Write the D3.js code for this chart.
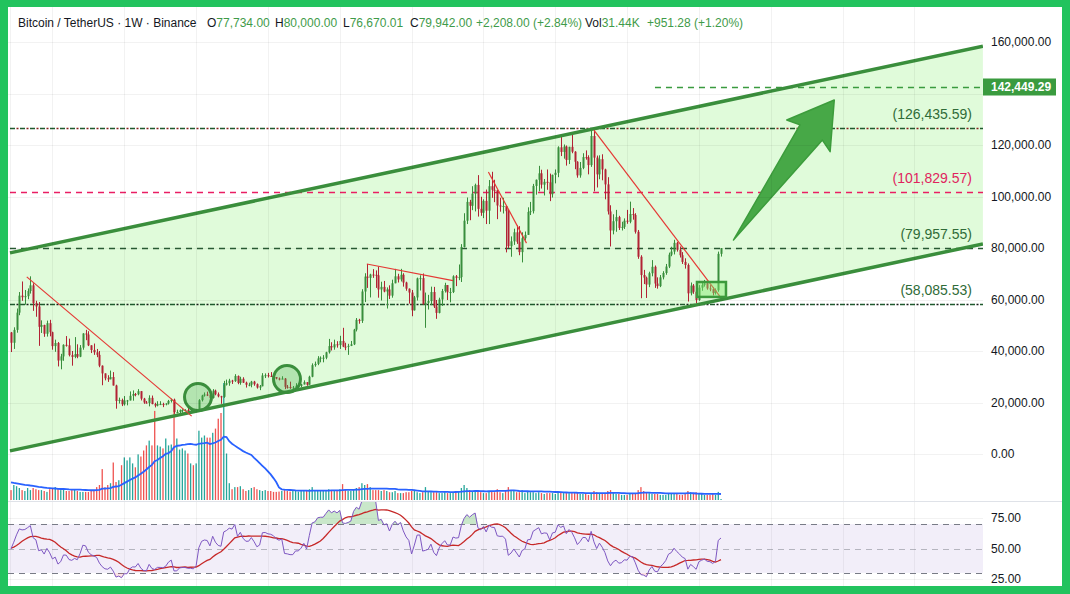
<!DOCTYPE html>
<html><head><meta charset="utf-8">
<script src="https://cdn.jsdelivr.net/npm/d3@7"></script>
<style>html,body{margin:0;padding:0;background:#fff;}svg{display:block;font-family:"Liberation Sans",Arial,sans-serif;}</style>
</head><body><svg id="c" width="1070" height="594"></svg>
<script>
// ---------- DATA (prices in thousands of USDT, weekly, Binance BTCUSDT) ----------
const priorCloses = [45.2,51.0,59.0,57.4,55.8,57.1,59.8,56.2,49.1,56.6,58.2,46.5,34.7,35.7,35.8,39.1,35.6,34.7,35.3,34.3,31.8,35.4,39.9,44.6,47.0,49.3,48.8,49.9,46.0,47.2];
const priorVolumes = [900,800,720,650,600,560,620,640,700,650,580,540,520,500,540,480,620,450,400];

const closes = [
43.2,48.2,54.9,61.5,60.9,61.3,63.3,65.5,58.6,57.3,49.4,50.1,46.7,50.8,47.3,
41.9,43.1,36.3,37.9,42.4,42.2,38.4,37.7,38.8,37.8,41.3,46.8,46.4,42.2,40.4,39.5,38.5,34.3,31.3,29.4,29.0,29.9,26.6,20.6,21.0,19.3,
20.8,20.8,22.6,23.3,23.2,24.4,21.5,20.0,19.8,21.8,19.4,18.8,19.4,19.4,19.2,19.6,20.6,21.1,16.3,16.3,17.0,17.1,17.1,16.8,16.8,16.6,
17.1,20.9,22.7,23.1,23.0,21.8,24.6,23.2,22.4,22.2,26.9,27.5,28.5,28.3,30.3,27.6,29.2,27.7,26.9,26.9,28.1,27.1,25.8,26.3,30.5,30.6,
30.3,30.2,29.9,29.3,29.0,29.3,26.1,26.0,25.8,25.8,26.5,26.5,27.0,27.9,26.9,30.0,34.5,35.0,37.1,37.4,37.4,39.5,41.9,41.4,42.6,42.3,
43.9,41.7,41.6,42.0,42.6,48.3,52.1,51.7,63.1,68.9,68.4,69.7,69.6,69.4,63.9,64.9,63.1,63.9,61.5,66.3,69.0,67.8,69.6,66.6,64.2,62.7,
55.8,60.8,68.2,68.3,58.2,58.7,59.4,62.9,57.3,54.8,60.0,63.3,65.6,62.8,62.9,69.0,68.4,68.7,80.4,90.6,97.9,96.4,101.1,104.5,95.2,93.7,
98.3,94.5,104.0,102.6,102.4,96.5,96.1,96.3,94.3,80.7,82.6,86.1,82.4,78.4,83.8,85.1,94.0,94.3,104.1,106.5,109.0,104.6,105.7,105.5,100.9,108.4,
109.2,119.1,117.3,119.4,114.2,119.3,117.4,113.5,108.2,111.1,115.3,115.2,112.2,123.5,115.1,108.6,114.5,110.5,104.7,94.2,86.8,90.4,92.0,87.8,88.2,90.6,
90.2,93.2,92.8,86.3,76.6,69.5,68.5,65.8,70.2,72.7,66.2,65.2,68.6,70.3,72.8,77.4,78.6,82.0,79.3,77.2,74.6,73.4,62.4,65.4,63.0,59.8,64.6,65.6,66.3,64.3,64.0,62.5,63.6,77.734,79.942
];
const highs = [
47.4,49.2,56.5,62.9,67.0,63.7,64.3,69.0,66.3,59.5,59.0,51.9,50.2,51.8,52.1,
47.5,44.4,43.5,38.9,42.6,45.8,44.8,40.0,45.4,42.6,42.3,46.9,48.2,47.7,41.6,42.9,40.8,40.0,34.4,30.7,30.6,32.4,31.8,26.9,21.9,21.5,
22.5,21.0,24.3,24.7,23.7,25.2,24.4,21.8,20.6,22.8,22.7,19.9,20.5,20.5,19.9,19.7,21.0,21.5,21.5,17.2,17.3,17.4,17.4,18.4,17.1,17.0,
17.2,21.3,23.0,23.9,24.2,23.4,25.2,25.0,23.9,22.6,28.4,28.9,29.2,28.8,31.0,30.5,30.0,29.8,28.1,27.7,28.4,28.4,27.4,26.8,31.4,31.3,
31.5,31.8,30.3,29.9,29.7,30.2,29.5,26.8,28.1,26.4,27.5,27.4,27.3,28.6,27.9,30.4,35.2,35.9,38.0,37.9,38.4,39.7,44.7,43.4,44.4,43.8,
45.9,49.0,43.2,42.8,43.9,48.6,52.8,52.5,64.0,70.2,73.8,70.0,71.8,71.3,72.8,66.9,67.2,64.7,65.5,67.7,71.9,70.0,71.9,70.2,66.9,64.3,
63.7,61.4,68.5,69.4,70.1,62.7,61.8,65.0,64.9,59.8,60.7,64.1,66.5,65.6,64.5,69.4,69.5,73.6,81.5,93.5,99.6,98.7,104.0,105.0,108.3,99.9,
98.9,102.7,106.4,109.6,106.5,102.5,99.5,99.5,96.5,95.0,84.5,87.5,88.8,88.5,86.1,86.4,95.8,97.9,104.9,106.6,111.9,110.4,106.8,110.5,108.9,108.5,
110.5,119.5,123.2,120.2,119.8,119.3,124.5,117.6,113.7,113.4,116.8,117.9,116.0,125.7,126.2,115.9,116.0,116.4,110.8,107.5,96.6,93.1,94.8,92.5,90.2,91.5,
94.8,98.0,95.5,93.5,87.0,77.2,71.5,68.9,70.8,75.3,73.2,68.6,69.5,71.0,73.8,78.2,80.5,83.2,82.4,80.6,78.4,76.0,74.0,66.6,66.0,63.6,65.6,66.9,67.6,66.6,65.6,64.8,64.3,78.6,80.0
];
const lows = [
39.6,40.8,47.1,53.9,59.5,58.0,60.1,62.3,55.6,53.3,42.0,47.0,45.5,45.6,45.7,
40.5,39.7,34.0,32.9,36.2,41.7,37.9,34.3,37.2,37.2,37.6,40.5,44.2,41.9,39.2,38.5,37.6,33.7,26.7,28.6,28.0,29.3,26.6,17.6,19.6,18.6,
18.8,18.9,20.8,20.7,22.4,22.8,20.8,19.5,19.6,18.5,19.3,18.1,18.5,19.0,18.2,18.9,19.2,20.0,15.6,15.8,15.5,16.0,16.7,16.3,16.3,16.3,
16.5,17.2,20.4,22.3,22.5,21.4,21.5,22.8,22.0,19.5,21.8,26.6,26.5,27.2,28.0,27.1,26.9,27.6,25.8,26.3,25.9,26.5,25.4,24.8,26.3,29.5,
29.7,30.0,29.5,29.0,28.6,29.0,25.2,25.4,25.3,24.9,24.9,26.0,26.0,27.2,26.5,26.9,29.8,33.9,34.5,35.6,35.6,36.8,39.0,40.2,40.5,41.3,
40.8,41.5,40.3,38.5,41.9,42.3,47.6,50.6,50.9,59.0,64.5,60.8,68.4,64.5,60.7,59.6,62.8,56.5,60.2,60.7,66.6,66.6,67.0,65.0,63.4,58.4,
53.5,55.7,59.6,63.5,58.0,49.0,56.1,57.8,56.7,52.5,54.6,57.5,62.7,59.8,58.9,62.5,65.2,67.5,66.8,80.2,89.3,90.8,94.7,94.2,92.2,92.5,
91.6,89.3,89.3,99.5,97.8,91.2,94.1,93.4,78.3,80.0,76.6,81.2,81.6,77.2,74.4,83.0,85.1,92.8,93.4,100.7,102.0,103.1,100.4,102.6,98.2,99.6,
105.1,107.5,115.7,114.7,112.0,112.6,116.8,110.6,107.3,107.3,110.6,114.3,108.6,111.5,102.0,103.5,106.7,106.3,98.9,93.0,80.6,85.3,86.3,87.0,86.8,87.4,
89.4,89.6,91.0,85.6,75.8,60.5,66.0,60.6,64.8,69.0,64.5,64.2,64.8,67.8,69.6,72.2,76.8,77.5,78.6,76.3,73.8,72.0,59.2,61.6,62.2,58.6,59.5,63.4,65.0,63.8,63.2,61.6,61.9,63.0,76.67
];
// weekly volume, thousands of BTC
const volumes = [
330,500,460,400,330,300,400,330,400,360,330,330,300,270,360,
370,430,400,330,400,300,300,330,360,300,270,270,270,270,320,320,430,500,1030,430,500,560,1250,600,660,1160,
1420,1320,1420,1220,1090,1520,1450,1650,1820,1980,1820,2970,1820,1780,1720,2050,1820,1850,3300,2050,1680,1720,1650,1550,1220,1160,
1220,2310,2080,2150,2080,2080,2240,2380,2710,2900,3900,1550,560,360,430,430,460,360,300,330,400,430,360,330,300,330,
300,300,270,270,280,300,330,300,280,300,300,280,300,330,300,360,430,330,330,300,300,330,360,330,300,300,
360,530,330,300,300,330,400,430,560,500,530,430,330,330,330,300,330,300,260,260,300,230,230,230,260,260,
300,330,260,230,260,430,300,260,260,260,230,230,260,230,230,260,260,300,400,500,400,330,300,300,330,260,
230,230,300,300,260,360,260,230,330,430,330,300,260,260,330,230,300,260,260,230,260,230,200,230,230,230,
200,260,260,230,230,230,260,260,230,200,200,200,170,230,300,260,230,200,230,300,330,230,200,200,170,170,
170,200,200,230,330,430,300,260,230,200,200,200,170,170,170,200,200,230,200,170,170,200,300,260,230,260,200,200,170,170,170,200,170,270,31.44
];
const priceGrid = [0,20,40,60,80,100,120,140,160];
const priceLabels = [0,20,40,60,80,100,120,160];   // 140,000 hidden behind the level badge
const rsiTicks = [25,50,75];
const gridWeeks = [15,41,67,93,119,145,171,197,223,249,275,301,327];
const levelValues = [142449.29,126435.59,101829.57,79957.55,58085.53];
const headerTokens = [
  ["Bitcoin / TetherUS · 1W · Binance","n"],["O","n"],["77,734.00","g"],["H","n"],["80,000.00","g"],
  ["L","n"],["76,670.01","g"],["C","n"],["79,942.00","g"],["+2,208.00 (+2.84%)","g"],
  ["Vol","n"],["31.44K","g"],["+951.28 (+1.20%)","g"]];
// drawings (week index, price in thousands)
const channelUpper = [[-0.36,78.1],[351.8,158.4]];
const channelLower = [[-0.36,1.2],[351.8,81.6]];
const trendLines = [
  [[5.7,68.8],[65.4,14.7]],
  [[128.8,73.8],[160.0,67.3]],
  [[172.8,109.5],[186.6,81.9]],
  [[211.0,125.8],[256.8,60.9]]];
const circleMarks = [[67.7,22.1],[99.9,29.1]];
const boxMark = [[248.3,66.8],[258.8,61.0]];
const arrowMark = [[261.5,83.1],[285.6,127.8],[280.8,129.7],[298.0,137.5],[296.5,117.4],[293.7,121.9]];

// ---------- SETUP ----------
const svg = d3.select('#c');
const W = 1070, H = 594, PL = 8, PR = 983;
const N = closes.length;
const opens = closes.map((c,i)=> i===0 ? priorCloses[priorCloses.length-1] : closes[i-1]);
const hi = highs.map((h,i)=>Math.max(h,opens[i],closes[i]));
const lo = lows.map((l,i)=>Math.min(l,opens[i],closes[i]));

const x = d3.scaleLinear().domain([0,N-1]).range([11,721]);
const y = d3.scaleLinear().domain([0,160]).range([454,42]);
const yv = d3.scaleLinear().domain([0,3900]).range([500,383]);
const yr = d3.scaleLinear().domain([25,75]).range([579,518]);

svg.append('rect').attr('width',W).attr('height',H).attr('fill','#22c35e');
svg.append('rect').attr('x',8).attr('y',7).attr('width',1054).attr('height',579).attr('fill','#ffffff');

const defs = svg.append('defs');
defs.append('clipPath').attr('id','cp').append('rect').attr('x',PL).attr('y',7).attr('width',PR-PL).attr('height',494);
defs.append('clipPath').attr('id','cr').append('rect').attr('x',PL).attr('y',502).attr('width',PR-PL).attr('height',84);

const main = svg.append('g').attr('clip-path','url(#cp)');
const lineGen = d3.line().x(d=>x(d[0])).y(d=>y(d[1]));

// channel fill
const poly = [channelUpper[0],channelUpper[1],channelLower[1],channelLower[0]];
main.append('path').attr('d',lineGen(poly)+'Z').attr('fill','#e0fbda');

// grid
const grid = svg.append('g');
grid.selectAll('line.h').data(priceGrid).join('line')
  .attr('x1',PL).attr('x2',PR).attr('y1',d=>Math.round(y(d))+0.5).attr('y2',d=>Math.round(y(d))+0.5)
  .attr('stroke','#000').attr('stroke-opacity',0.05);
grid.selectAll('line.r').data([75,25]).join('line')
  .attr('x1',PL).attr('x2',PR).attr('y1',d=>Math.round(yr(d))+0.5).attr('y2',d=>Math.round(yr(d))+0.5)
  .attr('stroke','#000').attr('stroke-opacity',0.05);
grid.selectAll('line.v').data(gridWeeks).join('line')
  .attr('x1',d=>Math.round(x(d))+0.5).attr('x2',d=>Math.round(x(d))+0.5).attr('y1',7).attr('y2',586)
  .attr('stroke','#000').attr('stroke-opacity',0.05);
svg.append('line').attr('x1',10.5).attr('x2',10.5).attr('y1',7).attr('y2',586).attr('stroke','#000').attr('stroke-opacity',0.05);
svg.append('line').attr('x1',PL).attr('x2',1062).attr('y1',501.5).attr('y2',501.5).attr('stroke','#dfe2e8');

// volume
const vAll = priorVolumes.concat(volumes);
const vMA = volumes.map((v,i)=>{const k=i+priorVolumes.length; return d3.mean(vAll.slice(k-19,k+1));});
main.selectAll('rect.vol').data(volumes).join('rect')
  .attr('x',(d,i)=>x(i)-0.6).attr('width',1.3)
  .attr('y',d=>yv(d)).attr('height',d=>Math.max(0.5,500-yv(d)))
  .attr('fill',(d,i)=>closes[i]>=opens[i]?'#26a69a':'#ef5350');
main.append('path').datum(vMA).attr('fill','none').attr('stroke','#2962ff').attr('stroke-width',1.8)
  .attr('d',d3.line().x((d,i)=>x(i)).y(d=>yv(d)));

// level lines (each may be a pair of overlaid dash patterns)
const levelStyle = [
  {parts:[['#3a9b3f','6,5',0]], from:233.1, lab:null},
  {parts:[['#1f5a2e','5,5',0],['#8b1e1e','2,8',-6.5]], from:-1, lab:'#2f6b38'},
  {parts:[['#e91e63','6,5',0]], from:-1, lab:'#e0245e'},
  {parts:[['#2b5e36','6,5',0]], from:-1, lab:'#2f6b38'},
  {parts:[['#1f5a2e','5,5',0],['#1a1a1a','2,8',-6.5]], from:-1, lab:'#2f6b38'}];
const fmt2 = d3.format(',.2f');
levelValues.forEach((v,k)=>{
  const s = levelStyle[k], yy = Math.round(y(v/1000))+0.5;
  s.parts.forEach(p=>main.append('line').attr('x1',s.from<0?10:x(s.from)).attr('x2',PR).attr('y1',yy).attr('y2',yy)
    .attr('stroke',p[0]).attr('stroke-width',1.3).attr('stroke-dasharray',p[1]).attr('stroke-dashoffset',p[2]));
  if (s.lab) svg.append('text').attr('x',972).attr('y',yy-10).attr('text-anchor','end')
    .attr('font-size',14).attr('fill',s.lab).text('('+fmt2(v)+')');
});

// candles
const cg = main.append('g');
const up = '#388e3c', dn = '#b22234';
cg.selectAll('line').data(closes).join('line')
  .attr('x1',(d,i)=>Math.round(x(i))+0.5).attr('x2',(d,i)=>Math.round(x(i))+0.5)
  .attr('y1',(d,i)=>y(hi[i])).attr('y2',(d,i)=>y(lo[i]))
  .attr('stroke',(d,i)=>d>=opens[i]?up:dn).attr('stroke-width',1);
cg.selectAll('rect').data(closes).join('rect')
  .attr('x',(d,i)=>Math.round(x(i))-0.5).attr('width',2)
  .attr('y',(d,i)=>Math.min(y(d),y(opens[i])))
  .attr('height',(d,i)=>Math.max(1,Math.abs(y(d)-y(opens[i]))))
  .attr('fill',(d,i)=>d>=opens[i]?up:dn);

// channel lines
[channelUpper,channelLower].forEach(l=>main.append('path').attr('d',lineGen(l))
  .attr('stroke','#3a8e3c').attr('stroke-width',3.5).attr('fill','none'));
// trend lines
trendLines.forEach(l=>main.append('path').attr('d',lineGen(l))
  .attr('stroke','#e53935').attr('stroke-width',1.2).attr('fill','none'));
// circles
circleMarks.forEach(c=>main.append('circle').attr('cx',x(c[0])).attr('cy',y(c[1])).attr('r',13.5)
  .attr('fill','#4caf50').attr('fill-opacity',0.3).attr('stroke','#3a8e3c').attr('stroke-width',3));
// box
main.append('rect').attr('x',x(boxMark[0][0])).attr('y',y(boxMark[0][1]))
  .attr('width',x(boxMark[1][0])-x(boxMark[0][0])).attr('height',y(boxMark[1][1])-y(boxMark[0][1]))
  .attr('fill','#7fe86a').attr('fill-opacity',0.45).attr('stroke','#3c9a3c').attr('stroke-width',2.5);
// arrow
main.append('path').attr('d',lineGen(arrowMark)+'Z').attr('fill','#47a847').attr('stroke','#3c9c3c')
  .attr('stroke-width',1.5).attr('stroke-linejoin','round');

// ---------- RSI ----------
const allC = priorCloses.concat(closes);
function rsiCalc(arr,p){const out=new Array(arr.length).fill(null);let ag=0,al=0;
  for(let k=1;k<arr.length;k++){const ch=arr[k]-arr[k-1],g=Math.max(ch,0),l=Math.max(-ch,0);
    if(k<=p){ag+=g;al+=l;if(k===p){ag/=p;al/=p;out[k]=al===0?100:100-100/(1+ag/al);}}
    else{ag=(ag*(p-1)+g)/p;al=(al*(p-1)+l)/p;out[k]=al===0?100:100-100/(1+ag/al);}}
  return out;}
const rsiAll = rsiCalc(allC,14);
const off = priorCloses.length;
const rsi = closes.map((c,i)=>rsiAll[i+off]);
const rsiMA = closes.map((c,i)=>d3.mean(rsiAll.slice(i+off-13,i+off+1)));
const rg = svg.append('g').attr('clip-path','url(#cr)');
rg.append('rect').attr('x',PL).attr('width',PR-PL).attr('y',yr(70)).attr('height',yr(30)-yr(70))
  .attr('fill','#7e57c2').attr('fill-opacity',0.1);
[70,50,30].forEach(v=>rg.append('line').attr('x1',PL).attr('x2',PR).attr('y1',Math.round(yr(v))+0.5).attr('y2',Math.round(yr(v))+0.5)
  .attr('stroke','#787b86').attr('stroke-opacity',v===50?0.5:1).attr('stroke-dasharray','6,5'));
rg.append('path').datum(rsi).attr('fill','#4caf50').attr('fill-opacity',0.3)
  .attr('d',d3.area().x((d,i)=>x(i)).y0(yr(70)).y1(d=>yr(Math.max(d,70))));
rg.append('path').datum(rsi).attr('fill','#f23645').attr('fill-opacity',0.15)
  .attr('d',d3.area().x((d,i)=>x(i)).y0(yr(30)).y1(d=>yr(Math.min(d,30))));
rg.append('path').datum(rsiMA).attr('fill','none').attr('stroke','#c62828').attr('stroke-width',1.3)
  .attr('d',d3.line().x((d,i)=>x(i)).y(d=>yr(d)));
rg.append('path').datum(rsi).attr('fill','none').attr('stroke','#7e57c2').attr('stroke-width',1)
  .attr('d',d3.line().x((d,i)=>x(i)).y(d=>yr(d)));

// ---------- AXES ----------
const ax = svg.append('g').attr('transform',`translate(${PR},0)`)
  .call(d3.axisRight(y).tickValues(priceLabels).tickSize(0).tickPadding(8).tickFormat(d=>fmt2(d*1000)));
ax.select('.domain').remove();
ax.selectAll('text').attr('font-size',12).attr('fill','#131722').attr('font-family','"Liberation Sans",Arial,sans-serif');
const ax2 = svg.append('g').attr('transform',`translate(${PR},0)`)
  .call(d3.axisRight(yr).tickValues(rsiTicks).tickSize(0).tickPadding(8).tickFormat(d3.format('.2f')));
ax2.select('.domain').remove();
ax2.selectAll('text').attr('font-size',12).attr('fill','#131722').attr('font-family','"Liberation Sans",Arial,sans-serif');

// badge for top level
const by = Math.round(y(levelValues[0]/1000));
svg.append('rect').attr('x',PR).attr('y',by-8.5).attr('width',73).attr('height',17).attr('fill','#3a9b3f');
svg.append('text').attr('x',991).attr('y',by+4.3).attr('font-size',12).attr('font-weight','bold')
  .attr('fill','#fff').text(fmt2(levelValues[0]));

// ---------- HEADER ----------
const starts = {0:18,1:207,3:275,5:343,7:410,9:476,10:585,12:647};
const ht = svg.append('text').attr('y',26.5).attr('font-size',12);
headerTokens.forEach((t,k)=>{
  const ts = ht.append('tspan').text(t[0]).attr('fill',t[1]==='g'?'#3f9b4a':'#131722');
  if (starts[k]!==undefined) ts.attr('x',starts[k]);
});
</script></body></html>
